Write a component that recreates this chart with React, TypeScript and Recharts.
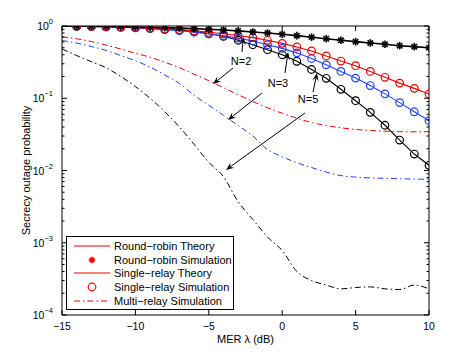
import React from 'react';
import {
  LineChart, Line, XAxis, YAxis, ReferenceLine, ReferenceDot, Legend, Label
} from 'recharts';

// MER lambda (dB)
const mer = [-15, -14, -13, -12, -11, -10, -9, -8, -7, -6, -5, -4, -3, -2, -1, 0, 1, 2, 3, 4, 5, 6, 7, 8, 9, 10];

// round-robin (black, asterisks)
const roundRobin = [0.997, 0.995, 0.99, 0.985, 0.98, 0.97, 0.96, 0.95, 0.935, 0.92, 0.9, 0.88, 0.855, 0.826, 0.8, 0.767, 0.735, 0.7, 0.667, 0.634, 0.607, 0.582, 0.558, 0.534, 0.518, 0.501];
// single-relay, N=2 / N=3 / N=5
const singleN2 = [0.996, 0.993, 0.987, 0.98, 0.97, 0.955, 0.935, 0.915, 0.89, 0.86, 0.82, 0.78, 0.74, 0.69, 0.634, 0.575, 0.513, 0.451, 0.385, 0.327, 0.282, 0.235, 0.195, 0.162, 0.137, 0.1145];
const singleN3 = [0.995, 0.99, 0.985, 0.975, 0.96, 0.945, 0.92, 0.89, 0.86, 0.82, 0.78, 0.73, 0.68, 0.62, 0.55, 0.49, 0.425, 0.355, 0.29, 0.235, 0.19, 0.15, 0.115, 0.087, 0.065, 0.049];
const singleN5 = [0.995, 0.99, 0.985, 0.975, 0.965, 0.95, 0.93, 0.9, 0.88, 0.84, 0.78, 0.72, 0.635, 0.55, 0.47, 0.4, 0.325, 0.25, 0.189, 0.133, 0.0925, 0.0638, 0.0423, 0.0264, 0.0169, 0.0118];
// multi-relay simulation, N=2 / N=3 / N=5
const multiN2 = [0.71, 0.665, 0.61, 0.545, 0.48, 0.42, 0.37, 0.315, 0.265, 0.215, 0.175, 0.14, 0.112, 0.09, 0.074, 0.062, 0.053, 0.046, 0.042, 0.039, 0.037, 0.0358, 0.035, 0.0345, 0.0343, 0.0345];
const multiN3 = [0.63, 0.58, 0.52, 0.46, 0.39, 0.33, 0.27, 0.21, 0.16, 0.11, 0.08, 0.058, 0.042, 0.03, 0.0195, 0.0155, 0.0128, 0.011, 0.0095, 0.0085, 0.0081, 0.0079, 0.0078, 0.0077, 0.0076, 0.0076];
const multiN5 = [0.48, 0.39, 0.32, 0.265, 0.2, 0.145, 0.1, 0.065, 0.04, 0.023, 0.013, 0.0082, 0.0037, 0.0021, 0.0012, 0.00078, 0.0004, 0.0003, 0.00026, 0.00023, 0.00024, 0.000245, 0.00023, 0.000225, 0.00026, 0.00023];

const xTicks = [-15, -10, -5, 0, 5, 10];
const yMajor = [1e-4, 1e-3, 1e-2, 1e-1, 1];
const yTicks = [...yMajor, ...yMajor.slice(0, 4).flatMap((d) => [2, 3, 4, 5, 6, 7, 8, 9].map((m) => m * d))];

const legendItems = [
  { name: 'Round\u2212robin Theory', kind: 'line' },
  { name: 'Round\u2212robin Simulation', kind: 'star' },
  { name: 'Single\u2212relay Theory', kind: 'line' },
  { name: 'Single\u2212relay Simulation', kind: 'circle' },
  { name: 'Multi\u2212relay Simulation', kind: 'dashdot' },
];

// annotation arrows, in data coordinates: [from, tip]
const arrows = [
  [[-2.74, 0.436], [-2.64, 0.704]],
  [[-3.35, 0.262], [-4.71, 0.157]],
  [[0.19, 0.224], [0.4, 0.436]],
  [[-1.38, 0.118], [-3.69, 0.05]],
  [[2.1, 0.122], [2.37, 0.224]],
  [[1.55, 0.0625], [-3.83, 0.0102]],
];
const arrowLabels = [
  { text: 'N=2', x: -2.8, y: 0.318 },
  { text: 'N=3', x: -0.29, y: 0.157 },
  { text: 'N=5', x: 1.76, y: 0.0946 },
];

const data = mer.map((x, i) => ({
  x,
  rr: roundRobin[i],
  s2: singleN2[i],
  s3: singleN3[i],
  s5: singleN5[i],
  m2: multiN2[i],
  m3: multiN3[i],
  m5: multiN5[i],
}));

const RED = '#f00000';
const BLUE = '#2040ff';
const FONT = '"Liberation Sans", Arial, sans-serif';
const DASHDOT = '6 3 1.5 3';

const isMajor = (v: number) => Math.abs(Math.log10(v) - Math.round(Math.log10(v))) < 1e-9;

const circleDot = (color: string) => (p: any) => {
  if (p.index === 0) return <g key={p.key} />;
  return <circle key={p.key} cx={p.cx} cy={p.cy} r={3.8} fill="none" stroke={color} strokeWidth={1.2} />;
};

const Star = ({ cx, cy, color, s = 3.8 }: any) => {
  const d = s * 0.707;
  return (
    <g stroke={color} strokeWidth={1.6}>
      <line x1={cx - s} y1={cy} x2={cx + s} y2={cy} />
      <line x1={cx} y1={cy - s} x2={cx} y2={cy + s} />
      <line x1={cx - d} y1={cy - d} x2={cx + d} y2={cy + d} />
      <line x1={cx - d} y1={cy + d} x2={cx + d} y2={cy - d} />
    </g>
  );
};

const starDot = (p: any) => {
  if (p.index === 0) return <g key={p.key} />;
  return <Star key={p.key} cx={p.cx} cy={p.cy} color="#000" />;
};

const LeftTick = ({ x, y, payload }: any) => {
  const major = isMajor(payload.value);
  const exp = Math.round(Math.log10(payload.value));
  return (
    <g>
      <line x1={x} y1={y} x2={x + (major ? 5 : 2.5)} y2={y} stroke="#000" />
      {major && (
        <text x={x - 9} y={y + 4} textAnchor="end" fontSize={10.5} fontFamily={FONT} fill="#000">
          10
          <tspan dy={-6} fontSize={7.5}>{exp === 0 ? '0' : '\u2212' + Math.abs(exp)}</tspan>
        </text>
      )}
    </g>
  );
};

const RightTick = ({ x, y, payload }: any) => (
  <line x1={x} y1={y} x2={x - (isMajor(payload.value) ? 5 : 2.5)} y2={y} stroke="#000" />
);

const BottomTick = ({ x, y, payload }: any) => (
  <g>
    <line x1={x} y1={y} x2={x} y2={y - 5} stroke="#000" />
    <text x={x} y={y + 15} textAnchor="middle" fontSize={10.5} fontFamily={FONT} fill="#000">
      {payload.value < 0 ? '\u2212' + Math.abs(payload.value) : payload.value}
    </text>
  </g>
);

const TopTick = ({ x, y }: any) => <line x1={x} y1={y} x2={x} y2={y + 5} stroke="#000" />;

const Arrow = ({ x1, y1, x2, y2 }: any) => {
  const a = Math.atan2(y2 - y1, x2 - x1);
  const len = 8;
  const w = 3.2;
  const bx = x2 - len * Math.cos(a);
  const by = y2 - len * Math.sin(a);
  const nx = x2 - len * 0.6 * Math.cos(a);
  const ny = y2 - len * 0.6 * Math.sin(a);
  const px = -Math.sin(a) * w;
  const py = Math.cos(a) * w;
  return (
    <g>
      <line x1={x1} y1={y1} x2={nx} y2={ny} stroke="#000" strokeWidth={1} />
      <polygon points={`${x2},${y2} ${bx + px},${by + py} ${nx},${ny} ${bx - px},${by - py}`} fill="#000" />
    </g>
  );
};

const LegendBox = () => (
  <div style={{ border: '1px solid #000', background: '#fff', padding: '2px 0', fontFamily: FONT, fontSize: 11, width: 168, boxSizing: 'border-box' }}>
    {legendItems.map((it) => (
      <div key={it.name} style={{ display: 'flex', alignItems: 'center', height: 13.7 }}>
        <svg width={36} height={12} style={{ marginLeft: 7, marginRight: 4 }}>
          {it.kind === 'line' && <line x1={0} y1={6} x2={36} y2={6} stroke={RED} strokeWidth={1.2} />}
          {it.kind === 'dashdot' && <line x1={0} y1={6} x2={36} y2={6} stroke={RED} strokeWidth={1} strokeDasharray={DASHDOT} />}
          {it.kind === 'star' && <Star cx={18} cy={6} color={RED} s={3.2} />}
          {it.kind === 'circle' && <circle cx={18} cy={6} r={3.8} fill="none" stroke={RED} strokeWidth={1.2} />}
        </svg>
        <span style={{ lineHeight: '12px', whiteSpace: 'nowrap' }}>{it.name}</span>
      </div>
    ))}
  </div>
);

export default function App() {
  return (
    <div style={{ position: 'absolute', left: 0, top: 0, background: '#fff' }}>
      <LineChart width={474} height={356} data={data} margin={{ top: 20, right: 39, bottom: 0, left: 0 }}>
        <XAxis
          xAxisId="b" dataKey="x" type="number" domain={[-15, 10]} ticks={xTicks} interval={0}
          height={41} tickSize={0} tickMargin={0} tickLine={false} tick={<BottomTick />}
          axisLine={{ stroke: '#000' }} allowDataOverflow
        >
          <Label
            content={({ viewBox }: any) => (
              <text x={viewBox.x + viewBox.width / 2} y={viewBox.y + 28} textAnchor="middle" fontSize={11} fontFamily={FONT} fill="#000">
                MER λ (dB)
              </text>
            )}
          />
        </XAxis>
        <XAxis
          xAxisId="t" orientation="top" dataKey="x" type="number" domain={[-15, 10]} ticks={xTicks} interval={0}
          height={6} tickSize={0} tickMargin={0} tickLine={false} tick={<TopTick />}
          axisLine={{ stroke: '#000' }} allowDataOverflow
        />
        <YAxis
          yAxisId="l" type="number" scale="log" domain={[1e-4, 1]} ticks={yTicks} interval={0}
          width={62} tickSize={0} tickMargin={0} tickLine={false} tick={<LeftTick />}
          axisLine={{ stroke: '#000' }} allowDataOverflow
        >
          <Label
            content={({ viewBox }: any) => {
              const cx = 27;
              const cy = viewBox.y + viewBox.height / 2;
              return (
                <text x={cx} y={cy} transform={`rotate(-90 ${cx} ${cy})`} textAnchor="middle" dominantBaseline="middle" fontSize={11} fontFamily={FONT} fill="#000">
                  Secrecy outage probability
                </text>
              );
            }}
          />
        </YAxis>
        <YAxis
          yAxisId="r" orientation="right" type="number" scale="log" domain={[1e-4, 1]} ticks={yTicks} interval={0}
          width={6} tickSize={0} tickMargin={0} tickLine={false} tick={<RightTick />}
          axisLine={{ stroke: '#000' }} allowDataOverflow
        />

        <Line xAxisId="b" yAxisId="l" dataKey="m2" stroke={RED} strokeWidth={1} strokeDasharray={DASHDOT} dot={false} isAnimationActive={false} type="monotone" />
        <Line xAxisId="b" yAxisId="l" dataKey="m3" stroke={BLUE} strokeWidth={1} strokeDasharray={DASHDOT} dot={false} isAnimationActive={false} type="monotone" />
        <Line xAxisId="b" yAxisId="l" dataKey="m5" stroke="#000" strokeWidth={1} strokeDasharray={DASHDOT} dot={false} isAnimationActive={false} type="monotone" />
        <Line xAxisId="b" yAxisId="l" dataKey="s5" stroke="#000" strokeWidth={1.1} dot={circleDot('#000')} isAnimationActive={false} type="linear" />
        <Line xAxisId="b" yAxisId="l" dataKey="s3" stroke={BLUE} strokeWidth={1.1} dot={circleDot(BLUE)} isAnimationActive={false} type="linear" />
        <Line xAxisId="b" yAxisId="l" dataKey="s2" stroke={RED} strokeWidth={1.1} dot={circleDot(RED)} isAnimationActive={false} type="linear" />
        <Line xAxisId="b" yAxisId="l" dataKey="rr" stroke="#000" strokeWidth={1.6} dot={starDot} isAnimationActive={false} type="linear" />

        {arrows.map(([from, to], i) => (
          <ReferenceLine
            key={'a' + i} xAxisId="b" yAxisId="l"
            segment={[{ x: from[0], y: from[1] }, { x: to[0], y: to[1] }]}
            shape={(p: any) => <Arrow {...p} />}
          />
        ))}
        {arrowLabels.map((l) => (
          <ReferenceDot
            key={l.text} xAxisId="b" yAxisId="l" x={l.x} y={l.y} r={0}
            shape={(p: any) => (
              <text x={p.cx} y={p.cy} textAnchor="middle" dominantBaseline="middle" fontSize={11} fontFamily={FONT} fill="#000">
                {l.text}
              </text>
            )}
          />
        ))}

        <Legend
          layout="vertical" align="center" verticalAlign="middle"
          wrapperStyle={{ left: 66, top: 236, width: 169, height: 74 }}
          content={() => <LegendBox />}
        />
      </LineChart>
    </div>
  );
}
